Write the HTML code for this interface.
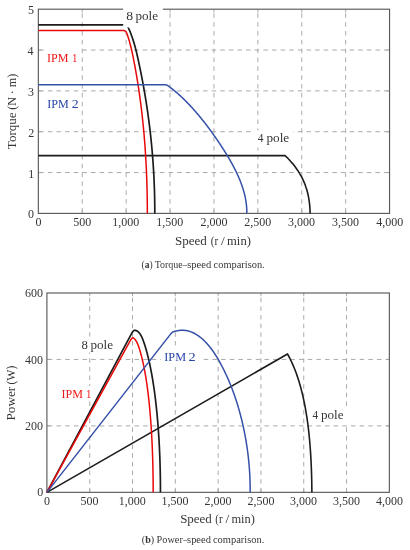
<!DOCTYPE html><html><head><meta charset="utf-8"><title>Torque-speed and power-speed comparison</title><style>html,body{margin:0;padding:0;background:#fff}svg{display:block}</style></head><body>
<svg width="410" height="550" viewBox="0 0 410 550" font-family="'Liberation Serif',serif">
<rect width="410" height="550" fill="#fff"/>
<g stroke="#a5a5a5" stroke-width="0.95" fill="none"><line x1="82.25" y1="9.20" x2="82.25" y2="213.40" stroke-dasharray="4.50 4.35" stroke-dashoffset="4.75"/><line x1="126.15" y1="9.20" x2="126.15" y2="213.40" stroke-dasharray="4.50 4.35" stroke-dashoffset="4.75"/><line x1="170.05" y1="9.20" x2="170.05" y2="213.40" stroke-dasharray="4.50 4.35" stroke-dashoffset="4.75"/><line x1="213.95" y1="9.20" x2="213.95" y2="213.40" stroke-dasharray="4.50 4.35" stroke-dashoffset="4.75"/><line x1="257.85" y1="9.20" x2="257.85" y2="213.40" stroke-dasharray="4.50 4.35" stroke-dashoffset="4.75"/><line x1="301.75" y1="9.20" x2="301.75" y2="213.40" stroke-dasharray="4.50 4.35" stroke-dashoffset="4.75"/><line x1="345.65" y1="9.20" x2="345.65" y2="213.40" stroke-dasharray="4.50 4.35" stroke-dashoffset="4.75"/><line x1="38.35" y1="172.56" x2="389.55" y2="172.56" stroke-dasharray="4.50 4.12" stroke-dashoffset="7.72"/><line x1="38.35" y1="131.72" x2="389.55" y2="131.72" stroke-dasharray="4.50 4.12" stroke-dashoffset="7.72"/><line x1="38.35" y1="90.88" x2="389.55" y2="90.88" stroke-dasharray="4.50 4.12" stroke-dashoffset="7.72"/><line x1="38.35" y1="50.04" x2="389.55" y2="50.04" stroke-dasharray="4.50 4.12" stroke-dashoffset="7.72"/><path d="M82.25 9.20v3.30M82.25 213.40v-3.30"/><path d="M126.15 9.20v3.30M126.15 213.40v-3.30"/><path d="M170.05 9.20v3.30M170.05 213.40v-3.30"/><path d="M213.95 9.20v3.30M213.95 213.40v-3.30"/><path d="M257.85 9.20v3.30M257.85 213.40v-3.30"/><path d="M301.75 9.20v3.30M301.75 213.40v-3.30"/><path d="M345.65 9.20v3.30M345.65 213.40v-3.30"/><path d="M38.35 172.56h3.30M389.55 172.56h-3.30"/><path d="M38.35 131.72h3.30M389.55 131.72h-3.30"/><path d="M38.35 90.88h3.30M389.55 90.88h-3.30"/><path d="M38.35 50.04h3.30M389.55 50.04h-3.30"/></g>
<rect x="38.35" y="9.20" width="351.20" height="204.20" fill="none" stroke="#5a5a5a" stroke-width="1.15"/>
<path d="M38.35 155.60L285.10 155.60L285.60 156.09L286.10 156.57L286.59 157.06L287.08 157.54L287.56 158.03L288.03 158.51L288.50 159.00L288.96 159.49L289.41 159.97L289.86 160.46L290.30 160.94L290.73 161.43L291.16 161.91L291.58 162.40L292.00 162.89L292.41 163.37L292.81 163.86L293.21 164.34L293.60 164.83L293.99 165.31L294.37 165.80L294.75 166.29L295.11 166.77L295.48 167.26L295.83 167.74L296.19 168.23L296.53 168.71L296.87 169.20L297.21 169.69L297.54 170.17L297.86 170.66L298.18 171.14L298.49 171.63L298.80 172.11L299.11 172.60L299.40 173.09L299.70 173.57L299.98 174.06L300.27 174.54L300.54 175.03L300.82 175.51L301.08 176.00L301.34 176.49L301.60 176.97L301.86 177.46L302.10 177.94L302.35 178.43L302.58 178.91L302.82 179.40L303.05 179.89L303.27 180.37L303.49 180.86L303.71 181.34L303.92 181.83L304.13 182.31L304.33 182.80L304.53 183.29L304.72 183.77L304.91 184.26L305.09 184.74L305.28 185.23L305.45 185.71L305.63 186.20L305.79 186.69L305.96 187.17L306.12 187.66L306.28 188.14L306.43 188.63L306.58 189.11L306.73 189.60L306.87 190.09L307.01 190.57L307.14 191.06L307.27 191.54L307.40 192.03L307.52 192.51L307.64 193.00L307.76 193.49L307.87 193.97L307.98 194.46L308.09 194.94L308.20 195.43L308.30 195.91L308.39 196.40L308.49 196.89L308.58 197.37L308.67 197.86L308.75 198.34L308.83 198.83L308.91 199.31L308.99 199.80L309.06 200.29L309.13 200.77L309.20 201.26L309.27 201.74L309.33 202.23L309.39 202.71L309.45 203.20L309.50 203.69L309.55 204.17L309.60 204.66L309.65 205.14L309.70 205.63L309.74 206.11L309.78 206.60L309.82 207.09L309.85 207.57L309.89 208.06L309.92 208.54L309.94 209.03L309.97 209.51L309.99 210.00L310.01 210.49L310.03 210.97L310.05 211.46L310.06 211.94L310.07 212.43L310.08 212.91L310.09 213.40" fill="none" stroke="#1c1c1c" stroke-width="1.60" stroke-linejoin="round"/>
<path d="M38.35 24.85L125.00 24.85L125.20 24.86L125.40 24.89L125.60 24.93L125.79 24.99L125.99 25.07L126.18 25.17L126.37 25.28L126.55 25.41L126.74 25.56L126.92 25.73L127.10 25.91L127.28 26.11L127.45 26.33L127.62 26.57L127.80 26.83L127.96 27.10L128.13 27.39L128.29 27.69L128.46 28.02L129.17 29.60L129.84 31.19L130.49 32.77L131.11 34.36L131.70 35.94L132.26 37.53L132.80 39.11L133.31 40.69L133.80 42.28L134.27 43.86L134.72 45.45L135.16 47.03L135.58 48.62L135.98 50.20L136.37 51.79L136.75 53.37L137.12 54.95L137.48 56.54L137.84 58.12L138.18 59.71L138.53 61.29L138.87 62.88L139.21 64.46L139.54 66.05L139.87 67.63L140.20 69.21L140.52 70.80L140.84 72.38L141.15 73.97L141.47 75.55L141.77 77.14L142.08 78.72L142.38 80.31L142.68 81.89L142.97 83.47L143.26 85.06L143.55 86.64L143.83 88.23L144.11 89.81L144.39 91.40L144.66 92.98L144.93 94.57L145.19 96.15L145.45 97.73L145.71 99.32L145.97 100.90L146.22 102.49L146.46 104.07L146.71 105.66L146.95 107.24L147.18 108.83L147.41 110.41L147.64 111.99L147.87 113.58L148.09 115.16L148.31 116.75L148.52 118.33L148.73 119.92L148.94 121.50L149.14 123.09L149.34 124.67L149.54 126.26L149.73 127.84L149.92 129.42L150.11 131.01L150.29 132.59L150.47 134.18L150.64 135.76L150.81 137.35L150.98 138.93L151.14 140.52L151.30 142.10L151.46 143.68L151.61 145.27L151.76 146.85L151.91 148.44L152.05 150.02L152.19 151.61L152.32 153.19L152.45 154.78L152.58 156.36L152.70 157.94L152.83 159.53L152.94 161.11L153.06 162.70L153.17 164.28L153.27 165.87L153.37 167.45L153.47 169.04L153.57 170.62L153.66 172.20L153.75 173.79L153.83 175.37L153.91 176.96L153.99 178.54L154.06 180.13L154.13 181.71L154.20 183.30L154.26 184.88L154.32 186.46L154.38 188.05L154.43 189.63L154.48 191.22L154.52 192.80L154.57 194.39L154.60 195.97L154.64 197.56L154.67 199.14L154.70 200.72L154.72 202.31L154.74 203.89L154.76 205.48L154.77 207.06L154.78 208.65L154.79 210.23L154.79 211.82L154.79 213.40" fill="none" stroke="#1c1c1c" stroke-width="1.70" stroke-linejoin="round"/>
<path d="M38.35 30.58L123.85 30.58L124.05 30.59L124.24 30.61L124.44 30.66L124.63 30.72L124.81 30.79L124.99 30.89L125.16 31.00L125.34 31.13L125.50 31.27L125.67 31.44L125.82 31.62L125.98 31.81L126.13 32.03L126.27 32.26L126.42 32.51L126.55 32.77L126.69 33.06L126.82 33.36L126.94 33.67L127.48 35.21L128.00 36.74L128.49 38.28L128.96 39.82L129.41 41.35L129.84 42.89L130.26 44.43L130.65 45.96L131.03 47.50L131.40 49.03L131.75 50.57L132.09 52.11L132.42 53.64L132.74 55.18L133.06 56.71L133.36 58.25L133.67 59.79L133.96 61.32L134.26 62.86L134.55 64.39L134.84 65.93L135.12 67.47L135.40 69.00L135.67 70.54L135.95 72.08L136.21 73.61L136.48 75.15L136.74 76.68L137.00 78.22L137.25 79.76L137.50 81.29L137.75 82.83L137.99 84.36L138.23 85.90L138.46 87.44L138.70 88.97L138.92 90.51L139.15 92.05L139.37 93.58L139.59 95.12L139.80 96.65L140.01 98.19L140.22 99.73L140.43 101.26L140.63 102.80L140.83 104.33L141.02 105.87L141.21 107.41L141.40 108.94L141.58 110.48L141.76 112.02L141.94 113.55L142.12 115.09L142.29 116.62L142.46 118.16L142.62 119.70L142.78 121.23L142.94 122.77L143.10 124.30L143.25 125.84L143.40 127.38L143.55 128.91L143.69 130.45L143.83 131.98L143.97 133.52L144.10 135.06L144.23 136.59L144.36 138.13L144.49 139.67L144.61 141.20L144.73 142.74L144.84 144.27L144.96 145.81L145.07 147.35L145.18 148.88L145.28 150.42L145.38 151.95L145.48 153.49L145.58 155.03L145.67 156.56L145.76 158.10L145.85 159.64L145.94 161.17L146.02 162.71L146.10 164.24L146.18 165.78L146.25 167.32L146.33 168.85L146.40 170.39L146.46 171.92L146.53 173.46L146.59 175.00L146.65 176.53L146.71 178.07L146.76 179.61L146.82 181.14L146.86 182.68L146.91 184.21L146.96 185.75L147.00 187.29L147.04 188.82L147.08 190.36L147.11 191.89L147.14 193.43L147.17 194.97L147.20 196.50L147.22 198.04L147.25 199.57L147.27 201.11L147.28 202.65L147.30 204.18L147.31 205.72L147.32 207.26L147.33 208.79L147.33 210.33L147.33 211.86L147.33 213.40" fill="none" stroke="#e80808" stroke-width="1.50" stroke-linejoin="round"/>
<path d="M38.35 84.85L165.18 84.85L165.34 84.86L165.51 84.86L165.67 84.88L165.84 84.90L166.00 84.93L166.17 84.96L166.33 85.00L166.49 85.04L166.65 85.09L166.82 85.15L166.98 85.21L167.14 85.28L167.30 85.36L167.46 85.44L167.62 85.52L167.78 85.62L167.93 85.72L168.09 85.82L168.25 85.93L169.70 87.01L171.12 88.09L172.50 89.17L173.84 90.25L175.16 91.33L176.44 92.41L177.69 93.49L178.91 94.57L180.10 95.65L181.27 96.73L182.42 97.81L183.54 98.89L184.64 99.97L185.72 101.05L186.78 102.13L187.82 103.21L188.85 104.29L189.87 105.37L190.88 106.46L191.87 107.54L192.85 108.62L193.82 109.70L194.77 110.78L195.72 111.86L196.65 112.94L197.58 114.02L198.49 115.10L199.39 116.18L200.29 117.26L201.17 118.34L202.04 119.42L202.91 120.50L203.76 121.58L204.61 122.66L205.45 123.74L206.28 124.82L207.10 125.90L207.92 126.98L208.72 128.06L209.52 129.14L210.32 130.22L211.10 131.30L211.88 132.38L212.65 133.46L213.42 134.54L214.18 135.62L214.93 136.70L215.68 137.78L216.43 138.86L217.16 139.94L217.90 141.02L218.63 142.10L219.35 143.18L220.07 144.26L220.79 145.34L221.50 146.42L222.20 147.50L222.90 148.58L223.60 149.67L224.28 150.75L224.96 151.83L225.64 152.91L226.30 153.99L226.97 155.07L227.62 156.15L228.27 157.23L228.90 158.31L229.54 159.39L230.16 160.47L230.77 161.55L231.38 162.63L231.98 163.71L232.57 164.79L233.15 165.87L233.72 166.95L234.28 168.03L234.84 169.11L235.38 170.19L235.91 171.27L236.44 172.35L236.95 173.43L237.45 174.51L237.94 175.59L238.42 176.67L238.89 177.75L239.35 178.83L239.80 179.91L240.23 180.99L240.65 182.07L241.06 183.15L241.46 184.23L241.85 185.31L242.22 186.39L242.58 187.47L242.93 188.55L243.26 189.63L243.58 190.71L243.88 191.79L244.18 192.88L244.45 193.96L244.72 195.04L244.97 196.12L245.20 197.20L245.42 198.28L245.62 199.36L245.81 200.44L245.98 201.52L246.14 202.60L246.28 203.68L246.40 204.76L246.51 205.84L246.60 206.92L246.68 208.00L246.73 209.08L246.78 210.16L246.80 211.24L246.81 212.32L246.81 213.40" fill="none" stroke="#3550a8" stroke-width="1.50" stroke-linejoin="round"/>
<rect x="44.00" y="48.60" width="36.50" height="16.60" fill="#fff"/>
<rect x="44.20" y="95.40" width="37.00" height="16.00" fill="#fff"/>
<rect x="123.20" y="7.50" width="39.60" height="20.00" fill="#fff"/>
<rect x="254.40" y="130.50" width="39.00" height="17.00" fill="#fff"/>
<g font-size="13.20" fill="#363636"><text x="35.39" y="225.80" textLength="6.00" lengthAdjust="spacingAndGlyphs">0</text><text x="73.15" y="225.80" textLength="18.00" lengthAdjust="spacingAndGlyphs">500</text><text x="112.27" y="225.80" textLength="27.00" lengthAdjust="spacingAndGlyphs">1,000</text><text x="156.17" y="225.80" textLength="27.00" lengthAdjust="spacingAndGlyphs">1,500</text><text x="200.41" y="225.80" textLength="27.00" lengthAdjust="spacingAndGlyphs">2,000</text><text x="244.31" y="225.80" textLength="27.00" lengthAdjust="spacingAndGlyphs">2,500</text><text x="288.10" y="225.80" textLength="27.00" lengthAdjust="spacingAndGlyphs">3,000</text><text x="332.00" y="225.80" textLength="27.00" lengthAdjust="spacingAndGlyphs">3,500</text><text x="376.13" y="225.80" textLength="27.00" lengthAdjust="spacingAndGlyphs">4,000</text><text x="27.94" y="218.40" textLength="6.00" lengthAdjust="spacingAndGlyphs">0</text><text x="28.17" y="177.56" textLength="6.00" lengthAdjust="spacingAndGlyphs">1</text><text x="28.17" y="136.72" textLength="6.00" lengthAdjust="spacingAndGlyphs">2</text><text x="27.94" y="95.88" textLength="6.00" lengthAdjust="spacingAndGlyphs">3</text><text x="27.48" y="55.04" textLength="6.00" lengthAdjust="spacingAndGlyphs">4</text><text x="27.94" y="14.20" textLength="6.00" lengthAdjust="spacingAndGlyphs">5</text></g>
<g stroke="#a5a5a5" stroke-width="0.95" fill="none"><line x1="89.71" y1="293.00" x2="89.71" y2="492.35" stroke-dasharray="4.50 4.14" stroke-dashoffset="3.88"/><line x1="132.51" y1="293.00" x2="132.51" y2="492.35" stroke-dasharray="4.50 4.14" stroke-dashoffset="3.88"/><line x1="175.32" y1="293.00" x2="175.32" y2="492.35" stroke-dasharray="4.50 4.14" stroke-dashoffset="3.88"/><line x1="218.13" y1="293.00" x2="218.13" y2="492.35" stroke-dasharray="4.50 4.14" stroke-dashoffset="3.88"/><line x1="260.93" y1="293.00" x2="260.93" y2="492.35" stroke-dasharray="4.50 4.14" stroke-dashoffset="3.88"/><line x1="303.74" y1="293.00" x2="303.74" y2="492.35" stroke-dasharray="4.50 4.14" stroke-dashoffset="3.88"/><line x1="346.54" y1="293.00" x2="346.54" y2="492.35" stroke-dasharray="4.50 4.14" stroke-dashoffset="3.88"/><line x1="46.90" y1="425.90" x2="389.35" y2="425.90" stroke-dasharray="4.50 4.16" stroke-dashoffset="7.66"/><line x1="46.90" y1="359.45" x2="389.35" y2="359.45" stroke-dasharray="4.50 4.16" stroke-dashoffset="7.66"/><path d="M89.71 293.00v3.30M89.71 492.35v-3.30"/><path d="M132.51 293.00v3.30M132.51 492.35v-3.30"/><path d="M175.32 293.00v3.30M175.32 492.35v-3.30"/><path d="M218.13 293.00v3.30M218.13 492.35v-3.30"/><path d="M260.93 293.00v3.30M260.93 492.35v-3.30"/><path d="M303.74 293.00v3.30M303.74 492.35v-3.30"/><path d="M346.54 293.00v3.30M346.54 492.35v-3.30"/><path d="M46.90 425.90h3.30M389.35 425.90h-3.30"/><path d="M46.90 359.45h3.30M389.35 359.45h-3.30"/></g>
<rect x="46.90" y="293.00" width="342.45" height="199.35" fill="none" stroke="#5a5a5a" stroke-width="1.15"/>
<path d="M46.90 492.35L287.50 353.96L287.99 354.85L288.48 355.74L288.96 356.63L289.43 357.54L289.90 358.46L290.36 359.38L290.82 360.31L291.26 361.25L291.71 362.19L292.14 363.15L292.57 364.11L292.99 365.08L293.41 366.05L293.82 367.03L294.23 368.02L294.63 369.02L295.02 370.02L295.41 371.03L295.79 372.05L296.17 373.07L296.54 374.10L296.91 375.14L297.27 376.18L297.62 377.23L297.97 378.28L298.31 379.34L298.65 380.40L298.98 381.47L299.31 382.55L299.63 383.63L299.95 384.72L300.26 385.81L300.56 386.91L300.86 388.01L301.16 389.12L301.45 390.23L301.73 391.35L302.01 392.47L302.29 393.60L302.56 394.73L302.83 395.86L303.09 397.00L303.34 398.15L303.59 399.30L303.84 400.45L304.08 401.61L304.32 402.77L304.55 403.93L304.78 405.10L305.00 406.27L305.22 407.45L305.44 408.63L305.65 409.81L305.85 410.99L306.05 412.18L306.25 413.38L306.44 414.57L306.63 415.77L306.82 416.97L307.00 418.18L307.18 419.39L307.35 420.60L307.52 421.81L307.68 423.02L307.84 424.24L308.00 425.46L308.15 426.69L308.30 427.91L308.45 429.14L308.59 430.37L308.73 431.61L308.86 432.84L308.99 434.08L309.12 435.32L309.25 436.56L309.37 437.80L309.48 439.04L309.60 440.29L309.71 441.54L309.82 442.79L309.92 444.04L310.02 445.29L310.12 446.55L310.22 447.81L310.31 449.06L310.40 450.32L310.48 451.58L310.56 452.84L310.64 454.11L310.72 455.37L310.80 456.64L310.87 457.90L310.94 459.17L311.00 460.44L311.07 461.71L311.13 462.98L311.19 464.25L311.24 465.52L311.30 466.79L311.35 468.06L311.39 469.34L311.44 470.61L311.48 471.89L311.53 473.16L311.57 474.44L311.60 475.72L311.64 477.00L311.67 478.27L311.70 479.55L311.73 480.83L311.75 482.11L311.78 483.39L311.80 484.67L311.81 485.95L311.83 487.23L311.84 488.51L311.85 489.79L311.86 491.07L311.87 492.35" fill="none" stroke="#1c1c1c" stroke-width="1.60" stroke-linejoin="round"/>
<path d="M46.90 492.35L131.39 333.82L131.59 333.46L131.78 333.12L131.98 332.79L132.17 332.49L132.35 332.20L132.54 331.93L132.72 331.69L132.91 331.46L133.09 331.25L133.26 331.06L133.44 330.89L133.61 330.75L133.78 330.62L133.95 330.51L134.12 330.42L134.28 330.35L134.44 330.30L134.60 330.28L134.76 330.27L135.45 330.39L136.11 330.59L136.74 330.86L137.35 331.20L137.92 331.62L138.47 332.09L138.99 332.63L139.49 333.22L139.97 333.86L140.43 334.55L140.87 335.29L141.30 336.07L141.70 336.89L142.10 337.75L142.48 338.64L142.85 339.55L143.21 340.50L143.56 341.47L143.91 342.46L144.25 343.47L144.58 344.49L144.91 345.54L145.24 346.59L145.57 347.67L145.89 348.76L146.21 349.86L146.52 350.98L146.84 352.11L147.14 353.26L147.45 354.43L147.75 355.60L148.05 356.80L148.34 358.00L148.63 359.22L148.92 360.45L149.20 361.70L149.48 362.96L149.75 364.24L150.03 365.52L150.30 366.82L150.56 368.13L150.82 369.46L151.08 370.80L151.34 372.15L151.59 373.51L151.83 374.88L152.08 376.27L152.32 377.66L152.56 379.07L152.79 380.49L153.02 381.92L153.25 383.36L153.47 384.81L153.69 386.27L153.90 387.75L154.12 389.23L154.33 390.72L154.53 392.23L154.73 393.74L154.93 395.26L155.13 396.79L155.32 398.33L155.51 399.88L155.69 401.44L155.87 403.01L156.05 404.58L156.22 406.17L156.39 407.76L156.56 409.36L156.72 410.97L156.88 412.58L157.04 414.21L157.19 415.84L157.34 417.47L157.48 419.12L157.63 420.77L157.77 422.43L157.90 424.09L158.03 425.77L158.16 427.44L158.28 429.13L158.41 430.82L158.52 432.51L158.64 434.21L158.75 435.92L158.85 437.63L158.96 439.35L159.06 441.07L159.15 442.79L159.25 444.52L159.34 446.26L159.42 448.00L159.51 449.74L159.58 451.49L159.66 453.24L159.73 454.99L159.80 456.75L159.86 458.51L159.93 460.27L159.98 462.04L160.04 463.81L160.09 465.58L160.14 467.35L160.18 469.13L160.22 470.91L160.26 472.69L160.29 474.47L160.32 476.26L160.35 478.04L160.37 479.83L160.39 481.61L160.41 483.40L160.42 485.19L160.43 486.98L160.43 488.77L160.44 490.56L160.44 492.35" fill="none" stroke="#1c1c1c" stroke-width="1.70" stroke-linejoin="round"/>
<path d="M46.90 492.35L130.27 340.69L130.46 340.34L130.65 340.01L130.84 339.70L131.03 339.42L131.21 339.16L131.38 338.92L131.55 338.70L131.72 338.50L131.88 338.33L132.04 338.18L132.20 338.06L132.35 337.95L132.49 337.87L132.63 337.81L132.77 337.77L132.91 337.76L133.04 337.77L133.16 337.80L133.28 337.86L133.81 338.24L134.31 338.68L134.79 339.18L135.25 339.73L135.69 340.33L136.11 340.98L136.52 341.66L136.90 342.39L137.27 343.15L137.63 343.95L137.97 344.78L138.30 345.64L138.63 346.53L138.94 347.43L139.25 348.36L139.55 349.31L139.84 350.28L140.13 351.26L140.42 352.25L140.70 353.26L140.98 354.29L141.26 355.32L141.53 356.37L141.80 357.44L142.06 358.52L142.33 359.61L142.58 360.71L142.84 361.83L143.09 362.96L143.34 364.10L143.58 365.25L143.82 366.42L144.06 367.60L144.29 368.79L144.52 369.99L144.75 371.20L144.97 372.42L145.19 373.66L145.40 374.90L145.62 376.16L145.83 377.42L146.03 378.70L146.23 379.98L146.43 381.28L146.63 382.59L146.82 383.90L147.01 385.23L147.20 386.56L147.38 387.90L147.56 389.26L147.74 390.62L147.91 391.98L148.08 393.36L148.25 394.75L148.41 396.14L148.57 397.54L148.73 398.95L148.89 400.37L149.04 401.79L149.19 403.23L149.33 404.67L149.47 406.11L149.61 407.56L149.75 409.02L149.89 410.49L150.02 411.96L150.14 413.44L150.27 414.92L150.39 416.41L150.51 417.91L150.63 419.41L150.74 420.92L150.85 422.43L150.96 423.95L151.06 425.47L151.17 427.00L151.27 428.54L151.36 430.07L151.46 431.61L151.55 433.16L151.64 434.71L151.72 436.27L151.81 437.83L151.89 439.39L151.97 440.96L152.04 442.53L152.12 444.10L152.19 445.68L152.26 447.26L152.32 448.84L152.38 450.43L152.44 452.02L152.50 453.61L152.56 455.20L152.61 456.80L152.66 458.40L152.71 460.00L152.76 461.61L152.80 463.21L152.84 464.82L152.88 466.43L152.92 468.04L152.95 469.65L152.98 471.27L153.01 472.89L153.04 474.50L153.06 476.12L153.08 477.74L153.10 479.36L153.12 480.98L153.13 482.61L153.15 484.23L153.16 485.85L153.16 487.48L153.17 489.10L153.17 490.73L153.17 492.35" fill="none" stroke="#e80808" stroke-width="1.50" stroke-linejoin="round"/>
<path d="M46.90 492.35L170.57 334.16L170.73 333.95L170.89 333.76L171.05 333.57L171.21 333.39L171.37 333.22L171.53 333.06L171.69 332.90L171.85 332.75L172.01 332.61L172.17 332.48L172.32 332.36L172.48 332.25L172.64 332.14L172.79 332.04L172.95 331.95L173.10 331.87L173.26 331.80L173.41 331.74L173.56 331.68L174.98 331.26L176.36 330.92L177.71 330.64L179.02 330.44L180.30 330.31L181.55 330.24L182.77 330.23L183.96 330.29L185.12 330.39L186.26 330.56L187.38 330.77L188.47 331.04L189.54 331.35L190.60 331.70L191.63 332.10L192.65 332.54L193.66 333.02L194.65 333.53L195.63 334.07L196.59 334.65L197.55 335.27L198.49 335.91L199.42 336.59L200.35 337.30L201.26 338.03L202.16 338.80L203.05 339.60L203.93 340.43L204.80 341.28L205.66 342.16L206.52 343.07L207.36 344.01L208.19 344.97L209.02 345.96L209.84 346.97L210.65 348.01L211.45 349.07L212.24 350.16L213.03 351.27L213.81 352.40L214.58 353.56L215.35 354.73L216.11 355.93L216.86 357.15L217.61 358.39L218.35 359.65L219.08 360.94L219.81 362.24L220.54 363.56L221.26 364.90L221.98 366.26L222.69 367.63L223.39 369.03L224.10 370.44L224.79 371.88L225.49 373.33L226.17 374.80L226.85 376.28L227.53 377.79L228.20 379.31L228.86 380.86L229.52 382.42L230.17 383.99L230.82 385.59L231.45 387.20L232.08 388.84L232.71 390.48L233.32 392.15L233.93 393.84L234.53 395.54L235.12 397.25L235.70 398.99L236.28 400.74L236.85 402.51L237.40 404.29L237.95 406.09L238.49 407.91L239.02 409.74L239.54 411.59L240.05 413.45L240.55 415.33L241.04 417.22L241.52 419.13L241.99 421.05L242.45 422.98L242.89 424.93L243.33 426.89L243.75 428.87L244.16 430.86L244.56 432.86L244.95 434.87L245.33 436.89L245.69 438.93L246.04 440.97L246.38 443.03L246.70 445.10L247.02 447.18L247.31 449.26L247.60 451.36L247.87 453.46L248.13 455.58L248.37 457.70L248.60 459.83L248.81 461.96L249.01 464.11L249.19 466.26L249.36 468.41L249.51 470.57L249.65 472.73L249.77 474.90L249.87 477.08L249.96 479.25L250.04 481.43L250.09 483.61L250.13 485.80L250.16 487.98L250.17 490.16L250.16 492.35" fill="none" stroke="#3550a8" stroke-width="1.50" stroke-linejoin="round"/>
<rect x="78.60" y="336.60" width="38.50" height="16.00" fill="#fff"/>
<rect x="58.50" y="386.00" width="36.00" height="15.00" fill="#fff"/>
<rect x="161.00" y="349.00" width="41.50" height="16.50" fill="#fff"/>
<rect x="309.20" y="406.40" width="39.40" height="17.20" fill="#fff"/>
<g font-size="13.20" fill="#363636"><text x="43.94" y="504.80" textLength="6.00" lengthAdjust="spacingAndGlyphs">0</text><text x="80.61" y="504.80" textLength="18.00" lengthAdjust="spacingAndGlyphs">500</text><text x="118.64" y="504.80" textLength="27.00" lengthAdjust="spacingAndGlyphs">1,000</text><text x="161.44" y="504.80" textLength="27.00" lengthAdjust="spacingAndGlyphs">1,500</text><text x="204.59" y="504.80" textLength="27.00" lengthAdjust="spacingAndGlyphs">2,000</text><text x="247.40" y="504.80" textLength="27.00" lengthAdjust="spacingAndGlyphs">2,500</text><text x="290.09" y="504.80" textLength="27.00" lengthAdjust="spacingAndGlyphs">3,000</text><text x="332.89" y="504.80" textLength="27.00" lengthAdjust="spacingAndGlyphs">3,500</text><text x="375.93" y="504.80" textLength="27.00" lengthAdjust="spacingAndGlyphs">4,000</text><text x="37.14" y="496.45" textLength="6.00" lengthAdjust="spacingAndGlyphs">0</text><text x="25.08" y="430.00" textLength="18.00" lengthAdjust="spacingAndGlyphs">200</text><text x="25.08" y="363.55" textLength="18.00" lengthAdjust="spacingAndGlyphs">400</text><text x="25.08" y="297.10" textLength="18.00" lengthAdjust="spacingAndGlyphs">600</text></g>
<text x="47.04" y="61.80" font-size="13.20" fill="#f01818" textLength="21.47" lengthAdjust="spacingAndGlyphs">IPM</text>
<text x="71.97" y="61.80" font-size="13.20" fill="#f01818" textLength="5.42" lengthAdjust="spacingAndGlyphs">1</text>
<text x="47.24" y="108.00" font-size="13.20" fill="#2a45a8" textLength="21.58" lengthAdjust="spacingAndGlyphs">IPM</text>
<text x="71.78" y="108.00" font-size="13.20" fill="#2a45a8" textLength="6.91" lengthAdjust="spacingAndGlyphs">2</text>
<text x="126.38" y="19.80" font-size="13.20" fill="#363636" textLength="6.83" lengthAdjust="spacingAndGlyphs">8</text>
<text x="135.45" y="19.80" font-size="13.20" fill="#363636" textLength="22.62" lengthAdjust="spacingAndGlyphs">pole</text>
<text x="257.68" y="142.40" font-size="13.20" fill="#363636" textLength="5.70" lengthAdjust="spacingAndGlyphs">4</text>
<text x="266.45" y="142.40" font-size="13.20" fill="#363636" textLength="22.82" lengthAdjust="spacingAndGlyphs">pole</text>
<text x="174.93" y="244.60" font-size="13.40" fill="#363636" textLength="31.90" lengthAdjust="spacingAndGlyphs">Speed</text>
<text x="210.79" y="244.60" font-size="13.40" fill="#363636" textLength="7.35" lengthAdjust="spacingAndGlyphs">(r</text>
<text x="221.07" y="244.60" font-size="13.40" fill="#363636">/</text>
<text x="227.06" y="244.60" font-size="13.40" fill="#363636" textLength="23.85" lengthAdjust="spacingAndGlyphs">min)</text>
<text x="141.51" y="267.80" font-size="9.80" fill="#363636" textLength="11.11" lengthAdjust="spacingAndGlyphs">(<tspan font-weight="bold">a</tspan>)</text>
<text x="154.65" y="267.80" font-size="9.80" fill="#363636" textLength="28.12" lengthAdjust="spacingAndGlyphs">Torque</text>
<text x="182.90" y="267.80" font-size="9.80" fill="#363636" textLength="4.22" lengthAdjust="spacingAndGlyphs">&#8211;</text>
<text x="187.26" y="267.80" font-size="9.80" fill="#363636" textLength="24.01" lengthAdjust="spacingAndGlyphs">speed</text>
<text x="213.57" y="267.80" font-size="9.80" fill="#363636" textLength="51.14" lengthAdjust="spacingAndGlyphs">comparison.</text>
<text x="81.62" y="348.70" font-size="13.20" fill="#363636" textLength="6.35" lengthAdjust="spacingAndGlyphs">8</text>
<text x="90.45" y="348.70" font-size="13.20" fill="#363636" textLength="22.62" lengthAdjust="spacingAndGlyphs">pole</text>
<text x="61.54" y="398.00" font-size="13.20" fill="#f01818" textLength="21.47" lengthAdjust="spacingAndGlyphs">IPM</text>
<text x="85.97" y="398.00" font-size="13.20" fill="#f01818" textLength="5.42" lengthAdjust="spacingAndGlyphs">1</text>
<text x="164.24" y="360.90" font-size="13.20" fill="#2a45a8" textLength="21.79" lengthAdjust="spacingAndGlyphs">IPM</text>
<text x="188.56" y="360.90" font-size="13.20" fill="#2a45a8" textLength="7.16" lengthAdjust="spacingAndGlyphs">2</text>
<text x="312.49" y="418.90" font-size="13.20" fill="#363636" textLength="5.59" lengthAdjust="spacingAndGlyphs">4</text>
<text x="320.95" y="418.90" font-size="13.20" fill="#363636" textLength="22.62" lengthAdjust="spacingAndGlyphs">pole</text>
<text x="180.13" y="522.80" font-size="13.40" fill="#363636" textLength="31.70" lengthAdjust="spacingAndGlyphs">Speed</text>
<text x="215.29" y="522.80" font-size="13.40" fill="#363636" textLength="7.25" lengthAdjust="spacingAndGlyphs">(r</text>
<text x="225.43" y="522.80" font-size="13.40" fill="#363636">/</text>
<text x="231.47" y="522.80" font-size="13.40" fill="#363636" textLength="23.44" lengthAdjust="spacingAndGlyphs">min)</text>
<text x="141.89" y="543.00" font-size="9.80" fill="#363636" textLength="12.31" lengthAdjust="spacingAndGlyphs">(<tspan font-weight="bold">b</tspan>)</text>
<text x="156.64" y="543.00" font-size="9.80" fill="#363636" textLength="26.21" lengthAdjust="spacingAndGlyphs">Power</text>
<text x="183.30" y="543.00" font-size="9.80" fill="#363636" textLength="3.93" lengthAdjust="spacingAndGlyphs">&#8211;</text>
<text x="187.07" y="543.00" font-size="9.80" fill="#363636" textLength="23.80" lengthAdjust="spacingAndGlyphs">speed</text>
<text x="212.97" y="543.00" font-size="9.80" fill="#363636" textLength="51.35" lengthAdjust="spacingAndGlyphs">comparison.</text>
<text transform="translate(15.80 149.14) rotate(-90)" font-size="13.40" fill="#363636" textLength="36.71" lengthAdjust="spacingAndGlyphs">Torque</text>
<text transform="translate(15.80 109.85) rotate(-90)" font-size="13.40" fill="#363636" textLength="36.05" lengthAdjust="spacingAndGlyphs">(N&#160;&#183;&#160;m)</text>
<text transform="translate(15.00 420.59) rotate(-90)" font-size="13.40" fill="#363636" textLength="33.81" lengthAdjust="spacingAndGlyphs">Power</text>
<text transform="translate(15.00 384.54) rotate(-90)" font-size="13.40" fill="#363636" textLength="18.93" lengthAdjust="spacingAndGlyphs">(W)</text>
</svg></body></html>
